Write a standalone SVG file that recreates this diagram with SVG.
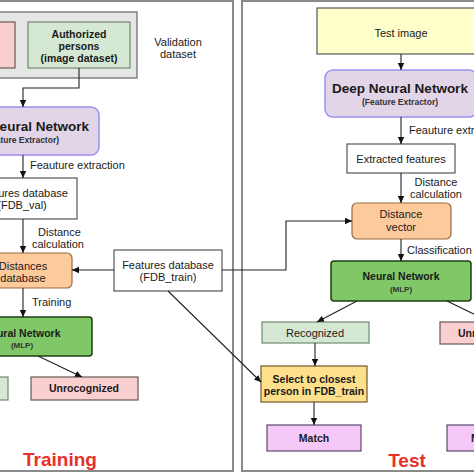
<svg xmlns="http://www.w3.org/2000/svg" width="474" height="474" viewBox="0 0 474 474">
<defs>
<marker id="ah" markerWidth="8" markerHeight="8" refX="7" refY="4" orient="auto" markerUnits="userSpaceOnUse">
<path d="M0,0.8 L7,4 L0,7.2 Z" fill="#111"/>
</marker>
<style>
text{font-family:"Liberation Sans",Arial,sans-serif;fill:#1a1a1a}
.r{font-size:11px}
.b{font-size:10.5px;font-weight:bold}
.t{font-size:13.5px;font-weight:bold}
.s{font-size:8.5px;font-weight:bold;fill:#333}
.m{font-size:8px;font-weight:bold;fill:#333}
.red{font-size:19px;font-weight:bold;fill:#e8302a}
.c{text-anchor:middle}
.panel{fill:#fff;stroke:#8a8a8a;stroke-width:2}
.wb{fill:#fff;stroke:#555;stroke-width:1.2}
.dnn{fill:#e1d5e7;stroke:#9f8ff0;stroke-width:1.5}
.or{fill:#fdca9c;stroke:#9a6a40;stroke-width:1.2}
.mlp{fill:#80c767;stroke:#1f3f12;stroke-width:1.5}
.rec{fill:#d5e8d4;stroke:#6f8a6f;stroke-width:1.2}
.unr{fill:#f9cfcf;stroke:#6a5555;stroke-width:1.2}
.sel{fill:#fddf8c;stroke:#6e5a2a;stroke-width:1.2}
.mat{fill:#f6c8f8;stroke:#5a4a6a;stroke-width:1.2}
.ln{fill:none;stroke:#222;stroke-width:1.1}
</style>
</defs>
<g id="panels">
<rect class="panel" x="-5" y="1" width="238" height="470"/>
<rect class="panel" x="242" y="1" width="240" height="470"/>
</g>
<g id="validation-dataset">
<rect x="-5" y="12" width="142" height="66" fill="#e6e6e6" stroke="#666" stroke-width="1.2"/>
<text class="r c" x="178" y="46">Validation</text>
<text class="r c" x="178" y="58">dataset</text>
</g>
<g id="unauthorized-persons">
<rect class="unr" x="-10" y="22" width="25" height="46"/>
</g>
<g id="authorized-persons">
<rect class="rec" x="28" y="22" width="102" height="46" stroke="#444"/>
<text class="b c" x="79" y="38">Authorized</text>
<text class="b c" x="79" y="50">persons</text>
<text class="b c" x="79" y="62">(image dataset)</text>
</g>
<g id="dnn-train">
<rect class="dnn" x="-57" y="107" width="156" height="48" rx="8"/>
<text class="t c" x="21" y="131">Deep Neural Network</text>
<text class="s c" x="21" y="143">(Feature Extractor)</text>
</g>
<g id="fdb-val">
<rect class="wb" x="-33" y="178" width="110" height="41"/>
<text class="r c" x="22" y="197">Features database</text>
<text class="r c" x="22" y="209">(FDB_val)</text>
</g>
<g id="distances-db">
<rect class="or" x="-28" y="253" width="100" height="35" rx="5"/>
<text class="r c" x="23" y="270">Distances</text>
<text class="r c" x="23" y="282">database</text>
</g>
<g id="mlp-train">
<rect class="mlp" x="-48" y="317" width="140" height="39" rx="3"/>
<text class="b c" x="22" y="337">Neural Network</text>
<text class="m c" x="22" y="348">(MLP)</text>
</g>
<g id="recognized-train">
<rect class="rec" x="-100" y="377" width="108" height="23"/>
</g>
<g id="unrecognized-train">
<rect class="unr" x="31" y="377" width="107" height="23"/>
<text class="b" x="49" y="392">Unrocognized</text>
</g>
<g id="fdb-train">
<rect class="wb" x="114" y="250" width="108" height="41"/>
<text class="r c" x="168" y="269">Features database</text>
<text class="r c" x="168" y="281">(FDB_train)</text>
</g>
<g id="test-image">
<rect x="317" y="8" width="170" height="46" fill="#ffffcc" stroke="#555" stroke-width="1.2"/>
<text class="r c" x="401" y="37">Test image</text>
</g>
<g id="dnn-test">
<rect class="dnn" x="325" y="70" width="152" height="47" rx="8"/>
<text class="t c" x="400" y="93">Deep Neural Network</text>
<text class="s c" x="400" y="105">(Feature Extractor)</text>
</g>
<g id="extracted-features">
<rect class="wb" x="347" y="144" width="108" height="29"/>
<text class="r c" x="401" y="163">Extracted features</text>
</g>
<g id="distance-vector">
<rect class="or" x="352" y="203" width="99" height="36" rx="5"/>
<text class="r c" x="401" y="218">Distance</text>
<text class="r c" x="401" y="231">vector</text>
</g>
<g id="mlp-test">
<rect class="mlp" x="331" y="261" width="140" height="40" rx="3"/>
<text class="b c" x="401" y="280">Neural Network</text>
<text class="m c" x="401" y="292">(MLP)</text>
</g>
<g id="recognized-test">
<rect class="rec" x="262" y="322" width="107" height="21"/>
<text class="r c" x="315" y="337">Recognized</text>
</g>
<g id="unrecognized-test">
<rect class="unr" x="440" y="322" width="107" height="22"/>
<text class="b" x="458" y="337">Unrocognized</text>
</g>
<g id="select-closest">
<rect class="sel" x="261" y="366" width="106" height="36"/>
<text class="b c" x="314" y="383">Select to closest</text>
<text class="b c" x="314" y="395">person in FDB_train</text>
</g>
<g id="match">
<rect class="mat" x="267" y="425" width="94" height="26"/>
<text class="b c" x="314" y="442">Match</text>
</g>
<g id="mismatch">
<rect class="mat" x="447" y="425" width="94" height="26"/>
<text class="b" x="471" y="442">Mismatch</text>
</g>
<g id="connectors">
<polyline class="ln" points="79,68 79,88 23,88 23,107" marker-end="url(#ah)"/>
<line class="ln" x1="23" y1="155" x2="23" y2="178" marker-end="url(#ah)"/>
<line class="ln" x1="23" y1="219" x2="23" y2="253" marker-end="url(#ah)"/>
<line class="ln" x1="23" y1="288" x2="23" y2="317" marker-end="url(#ah)"/>
<line class="ln" x1="38" y1="356" x2="82" y2="377" marker-end="url(#ah)"/>
<line class="ln" x1="114" y1="270" x2="72" y2="270" marker-end="url(#ah)"/>
<polyline class="ln" points="222,270 286,270 286,221 352,221" marker-end="url(#ah)"/>
<line class="ln" x1="168" y1="291" x2="261" y2="382" marker-end="url(#ah)"/>
<line class="ln" x1="401" y1="54" x2="401" y2="70" marker-end="url(#ah)"/>
<line class="ln" x1="401" y1="117" x2="401" y2="144" marker-end="url(#ah)"/>
<line class="ln" x1="401" y1="173" x2="401" y2="203" marker-end="url(#ah)"/>
<line class="ln" x1="401" y1="239" x2="401" y2="261" marker-end="url(#ah)"/>
<line class="ln" x1="357" y1="301" x2="317" y2="322" marker-end="url(#ah)"/>
<line class="ln" x1="447" y1="301" x2="490" y2="322" marker-end="url(#ah)"/>
<line class="ln" x1="315" y1="343" x2="315" y2="366" marker-end="url(#ah)"/>
<line class="ln" x1="314" y1="402" x2="314" y2="425" marker-end="url(#ah)"/>
</g>
<g id="labels">
<text class="r" x="30" y="169">Feauture extraction</text>
<text class="r" x="38" y="236">Distance</text>
<text class="r" x="32" y="248">calculation</text>
<text class="r" x="32" y="306">Training</text>
<text class="r" x="409" y="134">Feauture extraction</text>
<text class="r c" x="436" y="186">Distance</text>
<text class="r c" x="436" y="198">calculation</text>
<text class="r" x="407" y="254">Classification</text>
<text class="red c" x="60" y="466">Training</text>
<text class="red c" x="407" y="467">Test</text>
</g>
</svg>
